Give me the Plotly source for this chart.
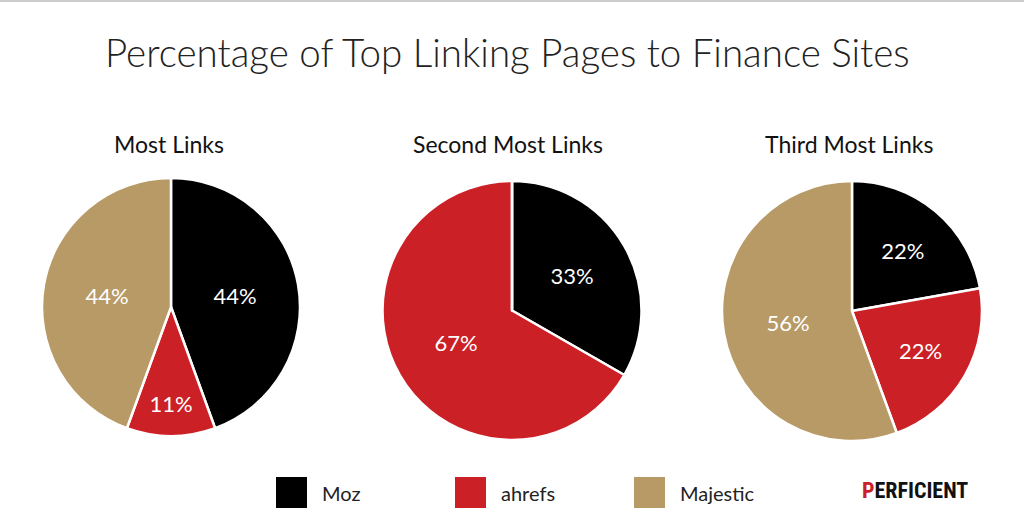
import plotly.graph_objects as go

series = ["Moz", "ahrefs", "Majestic"]
colors = ["#000000", "#CC2027", "#B89A67"]
titles = ["Most Links", "Second Most Links", "Third Most Links"]
pie_values = [[44.4, 11.1, 44.4], [33.3, 66.7, 0], [22.2, 22.2, 55.6]]
W, H = 1024, 528
boxes = [(40, 302, 178, 436), (382, 642, 181, 440), (722, 982, 181, 441)]

fig = go.Figure()
for vals, (x0, x1, y0, y1) in zip(pie_values, boxes):
    fig.add_trace(go.Pie(
        labels=series, values=vals, sort=False, direction="clockwise", rotation=0,
        marker=dict(colors=colors, line=dict(color="white", width=2.5)),
        textinfo="percent", texttemplate="%{percent:.0%}", textposition="inside",
        insidetextorientation="horizontal",
        textfont=dict(color="white", size=22, family="Lato"),
        domain=dict(x=[x0 / W, x1 / W], y=[1 - y1 / H, 1 - y0 / H]),
        showlegend=False, hoverinfo="label+percent"))

def A(text, x, y, size, anchor="center", color="#222", family="Lato"):
    return dict(text=text, x=x / W, y=1 - y / H, xref="paper", yref="paper", xanchor=anchor,
                yanchor="middle", showarrow=False, font=dict(family=family, size=size, color=color))

ann = [A("Percentage of Top Linking Pages to Finance Sites", 507, 52, 38.5, family="Lato Light, Lato")]
for t, cx in zip(titles, [169, 508, 849]):
    ann.append(A(t, cx, 144, 23, color="#111"))
shapes = []
for name, col, sx in zip(series, colors, [276, 455, 634]):
    shapes.append(dict(type="rect", xref="paper", yref="paper", x0=sx / W, x1=(sx + 31) / W,
                       y0=1 - 508 / H, y1=1 - 477 / H, fillcolor=col, line=dict(width=0)))
    ann.append(A(name, sx + 44, 493, 20, anchor="left"))
ann.append(A("<b><span style='color:#CC2027'>P</span>ERFICIENT</b>", 860, 490, 22,
             anchor="left", color="#111", family="Roboto Condensed, Roboto"))
shapes.append(dict(type="line", xref="paper", yref="paper", x0=0, x1=1, y0=1 - 1 / H, y1=1 - 1 / H,
                   line=dict(color="#bbbbbb", width=1.5)))

fig.update_layout(width=W, height=H, margin=dict(l=0, r=0, t=0, b=0), paper_bgcolor="white",
                  annotations=ann, shapes=shapes)
fig.write_html("out.html", config={"displayModeBar": False},
               post_script="document.body.style.margin='0';")
